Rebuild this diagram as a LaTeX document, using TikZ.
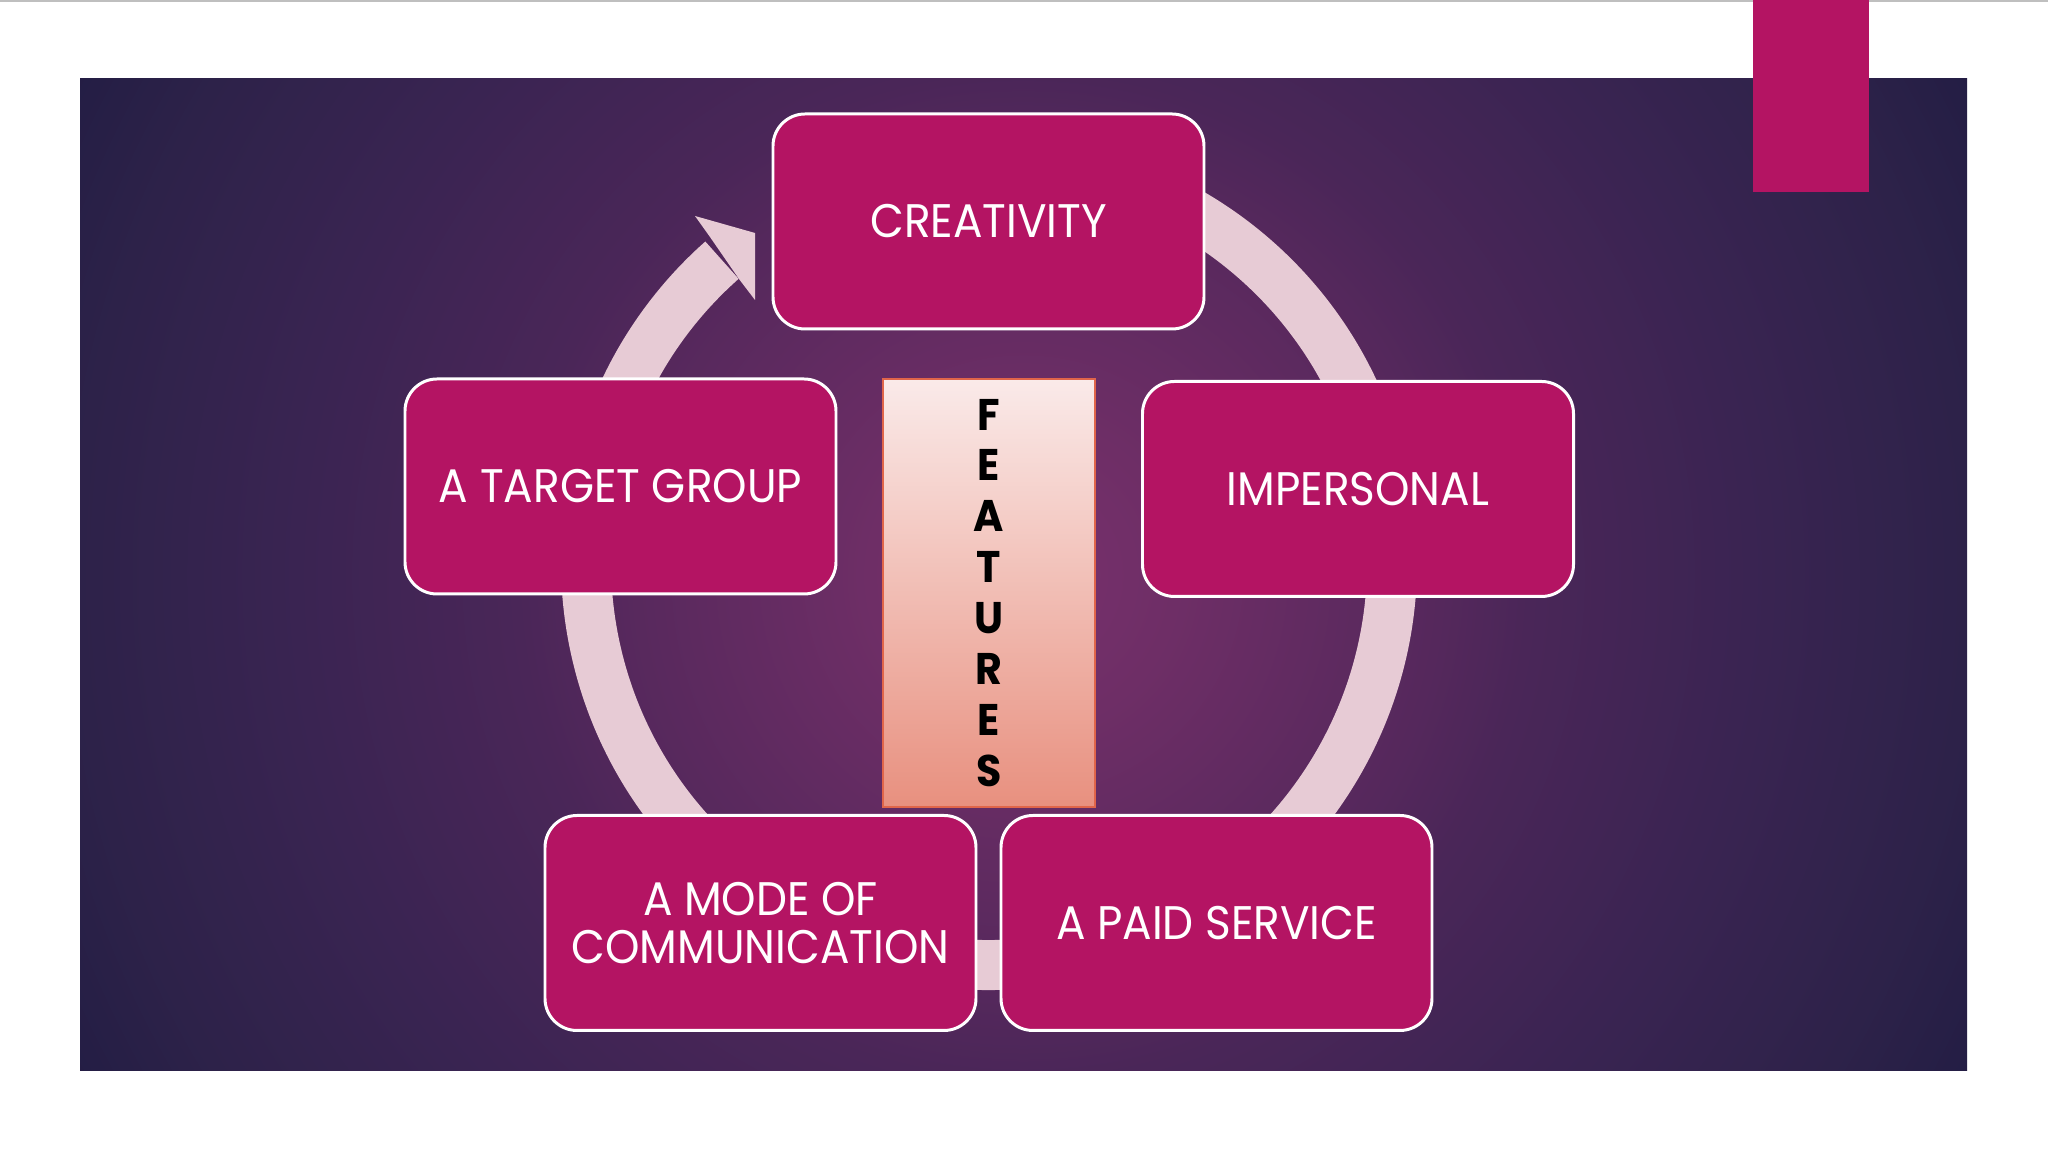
\documentclass[tikz,border=0pt]{standalone}
\usepackage{fontspec}
\usepackage{xcolor}
\usepackage{tikz}
\newfontfamily\gothic[FakeStretch=0.93]{Poppins}
\definecolor{boxpink}{HTML}{B41463}
\definecolor{ringpink}{HTML}{E7CBD5}
\definecolor{featedge}{HTML}{E0654A}
\definecolor{feattop}{HTML}{FAEAE9}
\definecolor{featbot}{HTML}{E8907F}
\definecolor{bg0}{HTML}{78316D}
\definecolor{bg1}{HTML}{6E2E66}
\definecolor{bg2}{HTML}{55285C}
\definecolor{bg3}{HTML}{4A2658}
\definecolor{bg4}{HTML}{3A2452}
\definecolor{bg5}{HTML}{2D2249}
\definecolor{bgout}{HTML}{211C43}
\pgfdeclareradialshading{bgglow}{\pgfpoint{0bp}{0bp}}{color(0bp)=(bg0); color(3.5bp)=(bg1); color(9.5bp)=(bg2); color(11.5bp)=(bg3); color(16.5bp)=(bg4); color(21.5bp)=(bg5); color(25bp)=(bgout); color(50bp)=(bgout)}

\begin{document}
\begin{tikzpicture}[
			     block/.style={draw=white, line width=0.85pt, fill=boxpink, rounded corners=0.32cm,
			       minimum width=4.31cm, minimum height=2.15cm, inner sep=0pt, align=center,
			       text=white, font=\gothic\fontsize{13.4}{13.7}\selectfont},
			     ring/.style={draw=ringpink, line width=0.5cm},
			     feat/.style={draw=featedge, line width=0.6pt, top color=feattop, bottom color=featbot,
			       minimum width=2.12cm, minimum height=4.28cm, inner sep=0pt, align=center,
			       font=\gothic\bfseries\fontsize{12.6}{14.5}\selectfont}
			     ]
\useasboundingbox (0,0) rectangle (20.48,11.52);
\fill[white] (0,0) rectangle (20.48,11.52);
\draw[gray!50, line width=0.5pt] (0,11.51) -- (20.48,11.51);
\begin{scope}
\clip (0.80,0.81) rectangle (19.67,10.73);
\fill[bgout] (0.80,0.81) rectangle (19.67,10.73);
\shade[shading=bgglow] (10.23,5.77) circle (11);
\end{scope}
\fill[boxpink] (17.53,9.60) rectangle (18.69,11.52);
%cycle arrow
\coordinate (ctr) at (9.89,5.90);
\draw[ring] (ctr) ++(100:4.03) arc[start angle=100, end angle=-228.5, radius=4.03];
\fill[ringpink] (6.95,9.36) -- (7.55,9.19) -- (7.55,8.52) -- (7.39,8.73) -- (7.10,9.15) -- cycle;
\node[block] (cre) at (9.885,9.305) {CREATIVITY};
\node[block] (imp) at (13.58,6.63) {IMPERSONAL};
\node[block] (paid) at (12.165,2.29) {A PAID SERVICE};
\node[block] (mode) at (7.605,2.29) {A MODE OF\\COMMUNICATION};
\node[block] (tgt) at (6.205,6.655) {A TARGET GROUP};
\node[feat] (feats) at (9.89,5.59) {F\\E\\A\\T\\U\\R\\E\\S};
\end{tikzpicture}
\end{document}
